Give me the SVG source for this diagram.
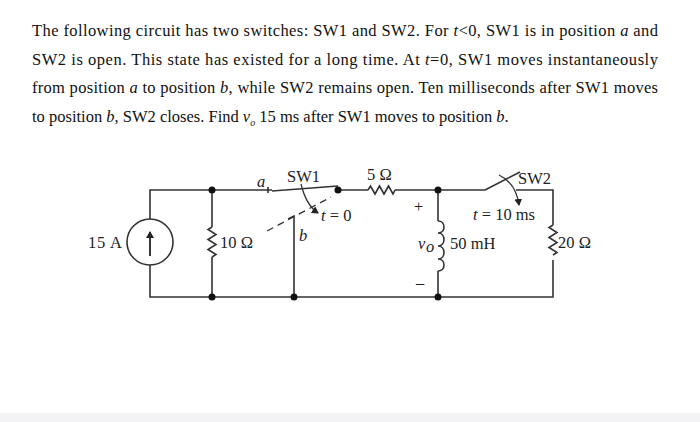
<svg xmlns="http://www.w3.org/2000/svg" width="700" height="422" viewBox="0 0 700 422">
<defs>
<style>
.t{font-family:"Liberation Serif",serif;font-size:16.5px;fill:#111}
.l{font-family:"Liberation Serif",serif;font-size:16.5px;fill:#222}
.w{fill:none;stroke:#333;stroke-width:1.6}
.d{fill:#111}
</style>
<marker id="ah" markerWidth="8" markerHeight="8" refX="6" refY="4" orient="auto" markerUnits="userSpaceOnUse"><path d="M0,0 L7,4 L0,8 z" fill="#222"/></marker>
</defs>
<rect width="700" height="422" fill="#fff"/>
<rect y="413" width="700" height="9" fill="#f3f3f5"/>
<g id="text">
<text class="t" x="32" y="36" textLength="626" lengthAdjust="spacing">The following circuit has two switches: SW1 and SW2. For <tspan font-style="italic">t</tspan>&lt;0, SW1 is in position <tspan font-style="italic">a</tspan> and</text>
<text class="t" x="32" y="65" textLength="626" lengthAdjust="spacing">SW2 is open. This state has existed for a long time. At <tspan font-style="italic">t</tspan>=0, SW1 moves instantaneously</text>
<text class="t" x="32" y="93" textLength="626" lengthAdjust="spacing">from position <tspan font-style="italic">a</tspan> to position <tspan font-style="italic">b</tspan>, while SW2 remains open. Ten milliseconds after SW1 moves</text>
<text class="t" x="32" y="122">to position <tspan font-style="italic">b</tspan>, SW2 closes. Find <tspan font-style="italic">v</tspan><tspan font-style="italic" font-size="10" dy="4">o</tspan><tspan dy="-4"> 15 ms after SW1 moves to position </tspan><tspan font-style="italic">b</tspan>.</text>
</g>
<g id="connectors">
<path class="w" d="M150,219 V190 H212 M212,190 H262 M150,265 V297 H553 V260 M553,225 V190 H516"/>
<path class="w" d="M212,190 V227 M212,257 V297"/>
<path class="w" d="M338,190 H368 M395,190 H438 H485"/>
<path class="w" d="M438,190 V221 M438,271 V297"/>
<path class="w" d="M294,297 V216 L288,219"/>
</g>
<g id="source"><circle class="w" cx="150" cy="242" r="23"/><path d="M150,256 V232" stroke="#222" stroke-width="1.8" marker-end="url(#ah)"/><text class="l" x="88" y="248" textLength="34">15 A</text></g>
<g id="r10"><path class="w" d="M212,227 l-4,2.5 l8,5 l-8,5 l8,5 l-8,5 l8,5 l-4,2.5"/><text class="l" x="220" y="248">10 Ω</text></g>
<g id="sw1">
<path class="w" d="M262,190 H272 M268,187 V193 M272,191 L338,186"/>
<path d="M267,231 L331,197" stroke="#333" stroke-width="1.3" stroke-dasharray="7,5" fill="none"/>
<path d="M301,184 Q306,205 318,213" stroke="#333" stroke-width="1.3" fill="none" marker-end="url(#ah)"/>
<text class="l" x="257" y="187" font-style="italic">a</text>
<text class="l" x="287" y="182">SW1</text>
<text class="l" x="321" y="221"><tspan font-style="italic">t</tspan> = 0</text>
<text class="l" x="299" y="241" font-style="italic">b</text>
</g>
<g id="r5"><path class="w" d="M368,190 l2.5,-4 l4.5,8 l4.5,-8 l4.5,8 l4.5,-8 l4.5,8 l2,-4"/><text class="l" x="367" y="180">5 Ω</text></g>
<g id="ind"><path class="w" d="M438,221 c8,0 8,12 0,12 c8,0 8,13 0,13 c8,0 8,13 0,13 c8,0 8,12 0,12"/>
<text class="l" x="414" y="212">+</text><text class="l" x="416" y="288">–</text>
<text class="l" x="418" y="249" font-style="italic">v</text><text class="l" x="426" y="252" font-style="italic" font-size="11">o</text>
<text class="l" x="450" y="249">50 mH</text></g>
<g id="sw2">
<path class="w" d="M485,190 L520,172"/>
<path d="M499,175 Q516,183 519,205" stroke="#333" stroke-width="1.3" fill="none" marker-end="url(#ah)"/>
<text class="l" x="518" y="184">SW2</text>
<text class="l" x="473" y="220"><tspan font-style="italic">t</tspan> = 10 ms</text>
</g>
<g id="r20"><path class="w" d="M553,225 l-4,2.5 l8,5 l-8,5 l8,5 l-8,5 l8,5 l-4,2.5"/><text class="l" x="558" y="248">20 Ω</text></g>
<g id="dots"><circle class="d" cx="212" cy="190" r="3.5"/><circle class="d" cx="212" cy="297" r="3.5"/><circle class="d" cx="294" cy="297" r="3.5"/><circle class="d" cx="338" cy="190" r="3.5"/><circle class="d" cx="438" cy="190" r="3.5"/><circle class="d" cx="438" cy="297" r="3.5"/></g>
</svg>
